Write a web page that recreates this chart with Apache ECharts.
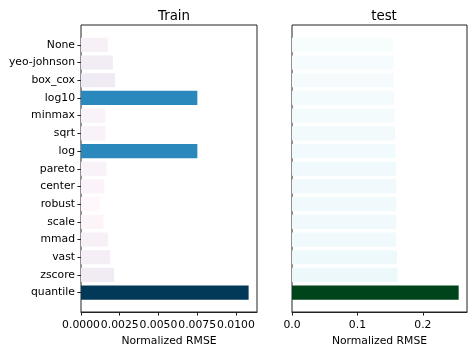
<!DOCTYPE html>
<html>
<head>
<meta charset="utf-8">
<script src="https://cdn.jsdelivr.net/npm/echarts@6/dist/echarts.min.js"></script>
<style>
  html, body { margin: 0; padding: 0; background: #fff; }
  #chart { width: 474px; height: 353px; }
</style>
</head>
<body>
<div id="chart"></div>
<script>
// scaler names, top to bottom
const methods = ['None', 'yeo-johnson', 'box_cox', 'log10', 'minmax', 'sqrt', 'log',
  'pareto', 'center', 'robust', 'scale', 'mmad', 'vast', 'zscore', 'quantile'];

// normalized RMSE per scaler
const trainRmse = [0.00173, 0.00206, 0.00219, 0.00751, 0.00158, 0.00158, 0.00751,
  0.00164, 0.00151, 0.00123, 0.00145, 0.00173, 0.00188, 0.00214, 0.01082];
const testRmse = [0.1542, 0.1552, 0.1555, 0.1562, 0.1567, 0.1577, 0.1583,
  0.1588, 0.1593, 0.1593, 0.1593, 0.1593, 0.1603, 0.1613, 0.2547];

const trainTicks = [0, 0.0025, 0.005, 0.0075, 0.01];
const testTicks = [0, 0.1, 0.2];

// matplotlib PuBu / BuGn
const puBu = ['#fff7fb', '#ece7f2', '#d0d1e6', '#a6bddb', '#74a9cf', '#3690c0', '#0570b0', '#045a8d', '#023858'];
const buGn = ['#f7fcfd', '#e5f5f9', '#ccece6', '#99d8c9', '#66c2a4', '#41ae76', '#238b45', '#006d2c', '#00441b'];

const font = 'DejaVu Sans';
const fs = 10.8;
const trainMax = Math.max(...trainRmse) * 1.05;
const testMax = Math.max(...testRmse) * 1.05;

function frameX(idx, max, ticks, fmt) {
  return {
    gridIndex: idx, type: 'value', min: 0, max: max,
    axisLine: { show: true, lineStyle: { color: '#222', width: 1 } },
    axisTick: { show: true, customValues: ticks, length: 3.6, lineStyle: { color: '#222' } },
    axisLabel: { customValues: ticks, formatter: fmt, color: '#000', fontFamily: font, fontSize: fs, margin: 8 },
    splitLine: { show: false },
    name: 'Normalized RMSE', nameLocation: 'middle', nameGap: 24,
    nameTextStyle: { color: '#000', fontFamily: font, fontSize: fs }
  };
}
function dataX(idx, max) {
  return { gridIndex: idx, type: 'value', min: 0, max: max, show: false };
}

const chart = echarts.init(document.getElementById('chart'));
chart.setOption({
  animation: false,
  title: [
    { text: 'Train', left: 169, top: 5, textAlign: 'center',
      textStyle: { fontFamily: font, fontSize: 13.4, fontWeight: 'normal', color: '#000' } },
    { text: 'test', left: 379, top: 5, textAlign: 'center',
      textStyle: { fontFamily: font, fontSize: 13.4, fontWeight: 'normal', color: '#000' } }
  ],
  grid: [
    // frames
    { left: 81, top: 25, width: 176, height: 287, show: true, borderColor: '#222', borderWidth: 1 },
    { left: 292, top: 25, width: 175, height: 287, show: true, borderColor: '#222', borderWidth: 1 },
    // bar areas
    { left: 81, top: 36, width: 176, height: 265.5 },
    { left: 292, top: 36, width: 175, height: 265.5 }
  ],
  xAxis: [
    frameX(0, trainMax, trainTicks, v => v.toFixed(4)),
    frameX(1, testMax, testTicks, v => v.toFixed(1)),
    dataX(2, trainMax),
    dataX(3, testMax)
  ],
  yAxis: [
    { gridIndex: 0, type: 'value', show: false },
    { gridIndex: 1, type: 'value', show: false },
    { gridIndex: 2, type: 'category', data: methods, inverse: true,
      axisLine: { show: false },
      axisTick: { show: true, alignWithLabel: true, length: 3.6, lineStyle: { color: '#222' } },
      axisLabel: { color: '#000', fontFamily: font, fontSize: fs, margin: 6 } },
    { gridIndex: 3, type: 'category', data: methods, inverse: true, show: false }
  ],
  visualMap: [
    { show: false, seriesIndex: 0, dimension: 0, min: Math.min(...trainRmse), max: Math.max(...trainRmse),
      inRange: { color: puBu } },
    { show: false, seriesIndex: 1, dimension: 0, min: Math.min(...testRmse), max: Math.max(...testRmse),
      inRange: { color: buGn } }
  ],
  series: [
    { type: 'bar', xAxisIndex: 2, yAxisIndex: 2, barCategoryGap: '20%',
      encode: { x: 0, y: 1 },
      data: trainRmse.map((v, i) => [v, methods[i]]) },
    { type: 'bar', xAxisIndex: 3, yAxisIndex: 3, barCategoryGap: '20%',
      encode: { x: 0, y: 1 },
      data: testRmse.map((v, i) => [v, methods[i]]) }
  ]
});
</script>
</body>
</html>
